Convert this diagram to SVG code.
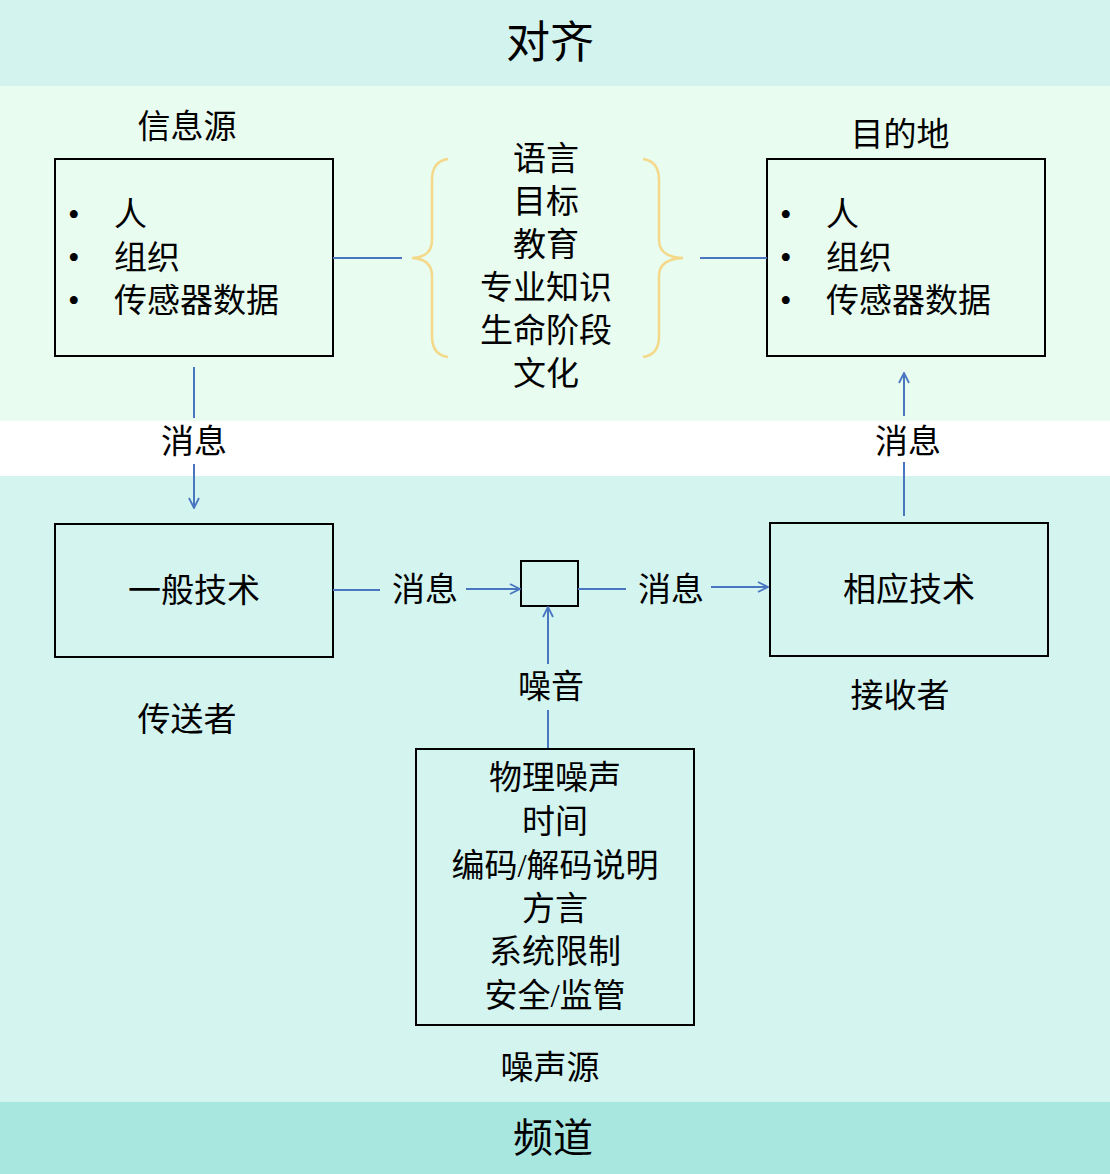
<svg xmlns="http://www.w3.org/2000/svg" width="1110" height="1174" viewBox="0 0 1110 1174">
<defs>
<style>
text{font-family:"Liberation Serif","Noto Sans CJK SC",serif;font-size:33px;fill:#000}
.c{text-anchor:middle}
.box{fill:none;stroke:#000;stroke-width:2}
.ln{stroke:#4a76c0;stroke-width:2;fill:none}
.br{stroke:#f5d98a;stroke-width:2.5;fill:none}
</style>
<marker id="ah" viewBox="0 0 12 12" refX="11" refY="6" markerWidth="12" markerHeight="12" markerUnits="userSpaceOnUse" orient="auto"><path d="M1,1 L11,6 L1,11" fill="none" stroke="#4a76c0" stroke-width="1.8"/></marker>
</defs>
<rect x="0" y="0" width="1110" height="86" fill="#d3f3ee"/>
<rect x="0" y="86" width="1110" height="335" fill="#e8fcef"/>
<rect x="0" y="421" width="1110" height="55" fill="#ffffff"/>
<rect x="0" y="476" width="1110" height="626" fill="#d4f4ef"/>
<rect x="0" y="1102" width="1110" height="72" fill="#a8e6e0"/>
<text class="c" x="550" y="58" style="font-size:44px">对齐</text>
<text class="c" x="553" y="1152" style="font-size:40px">频道</text>

<g id="source">
<text class="c" x="187" y="138">信息源</text>
<rect class="box" x="55" y="159" width="278" height="197"/>
<text x="68" y="226">•</text><text x="114" y="226">人</text>
<text x="68" y="269">•</text><text x="114" y="269">组织</text>
<text x="68" y="312">•</text><text x="114" y="312">传感器数据</text>
</g>
<g id="dest">
<text class="c" x="900" y="146">目的地</text>
<rect class="box" x="767" y="159" width="278" height="197"/>
<text x="780" y="226">•</text><text x="826" y="226">人</text>
<text x="780" y="269">•</text><text x="826" y="269">组织</text>
<text x="780" y="312">•</text><text x="826" y="312">传感器数据</text>
</g>
<g id="factors">
<path class="br" d="M448,159 Q432,161 432,180 L432,240 Q432,257 412,258 Q432,259 432,276 L432,336 Q432,355 448,357"/>
<path class="br" d="M643,159 Q659,161 659,180 L659,240 Q659,257 683,258 Q659,259 659,276 L659,336 Q659,355 643,357"/>
<text class="c" x="546" y="170">语言</text>
<text class="c" x="546" y="213">目标</text>
<text class="c" x="546" y="256">教育</text>
<text class="c" x="546" y="299">专业知识</text>
<text class="c" x="546" y="342">生命阶段</text>
<text class="c" x="546" y="385">文化</text>
</g>
<g id="transmitter">
<rect class="box" x="55" y="524" width="278" height="133"/>
<text class="c" x="194" y="602">一般技术</text>
<text class="c" x="187" y="731">传送者</text>
</g>
<g id="receiver">
<rect class="box" x="770" y="523" width="278" height="133"/>
<text class="c" x="909" y="601">相应技术</text>
<text class="c" x="900" y="707">接收者</text>
</g>
<g id="channel">
<rect class="box" x="521" y="561" width="57" height="45"/>
</g>
<g id="noise">
<rect class="box" x="416" y="749" width="278" height="276"/>
<text class="c" x="555" y="789">物理噪声</text>
<text class="c" x="555" y="833">时间</text>
<text class="c" x="555" y="877">编码/解码说明</text>
<text class="c" x="555" y="920">方言</text>
<text class="c" x="555" y="963">系统限制</text>
<text class="c" x="555" y="1007">安全/监管</text>
<text class="c" x="550" y="1079">噪声源</text>
</g>
<g id="connectors">
<line class="ln" x1="333" y1="258" x2="402" y2="258"/>
<line class="ln" x1="700" y1="258" x2="767" y2="258"/>
<line class="ln" x1="194" y1="367" x2="194" y2="418"/>
<line class="ln" x1="194" y1="464" x2="194" y2="508" marker-end="url(#ah)"/>
<text class="c" x="194" y="453">消息</text>
<line class="ln" x1="904" y1="516" x2="904" y2="462"/>
<line class="ln" x1="904" y1="416" x2="904" y2="373" marker-end="url(#ah)"/>
<text class="c" x="908" y="453">消息</text>
<line class="ln" x1="333" y1="590" x2="380" y2="590"/>
<text class="c" x="425" y="601">消息</text>
<line class="ln" x1="466" y1="589" x2="520" y2="589" marker-end="url(#ah)"/>
<line class="ln" x1="578" y1="589" x2="626" y2="589"/>
<text class="c" x="671" y="601">消息</text>
<line class="ln" x1="711" y1="587" x2="768" y2="587" marker-end="url(#ah)"/>
<line class="ln" x1="548" y1="748" x2="548" y2="710"/>
<text class="c" x="551" y="698">噪音</text>
<line class="ln" x1="548" y1="664" x2="548" y2="607" marker-end="url(#ah)"/>
</g>
</svg>
